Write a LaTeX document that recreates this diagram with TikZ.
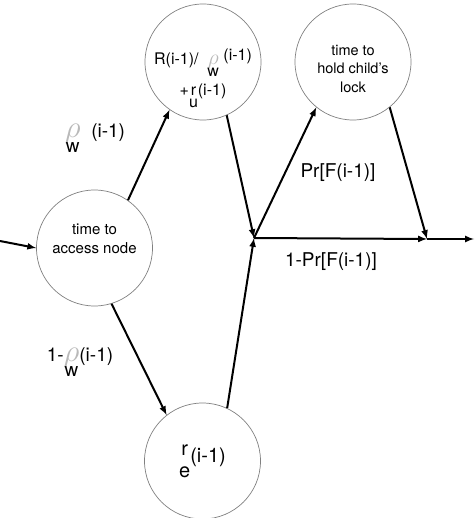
\documentclass[tikz,border=0pt]{standalone}
\usepackage{fontspec}
\setmainfont{TeX Gyre Heros}
\usepackage{graphicx}
\usepackage{tikz}
\tikzset{
	state/.style = {shape=circle, draw=gray, line width=0.7pt,
		minimum size=116pt, inner sep=0pt},
	flow/.style  = {draw, line width=2pt, -latex},
	lbl/.style   = {font=\fontsize{19}{22}\selectfont}
}
\newcommand{\stk}[3][0pt]{\ooalign{\hfil\raisebox{#1}{#2}\hfil\cr\hfil\raisebox{-0.75em}{#3}\hfil\cr}}
\newcommand{\rhoG}[1][1.8]{\textcolor{gray!55}{\scalebox{#1}{$\rho$}}}
\newcommand{\lines}[2]{\raisebox{#1}[\height][\depth]{\begin{tabular}{@{}c@{}}#2\end{tabular}}}

\begin{document}
\begin{tikzpicture}[x=1pt, y=-1pt]
	\useasboundingbox (0,0) rectangle (474,518);
	% states
	\node [state, font=\fontsize{15}{19}\selectfont] (acc) at (94.5,248) {\lines{8pt}{time to\\access node}};
	\node [state, font=\fontsize{16}{26}\selectfont] (rw) at (203,62)
	{\lines{-15pt}{R(i-1)/\ \ \stk{\rhoG[1.25]}{w}\ \raisebox{0.3em}{(i-1)}\\+\stk{r}{u}(i-1)}};
	\node [state, font=\fontsize{14.5}{18.5}\selectfont] (hold) at (353,62) {\lines{-8pt}{time to\\hold child's\\lock}};
	\node [state, font=\fontsize{20}{22}\selectfont] (re) at (202.5,461) {\stk[0.35em]{r}{e}(i-1)};
	% junctions
	\coordinate (src) at (0,241);
	\coordinate (j) at (254,238);
	\coordinate (m) at (427,239);
	\coordinate (out) at (474,239);
	% flows
	\draw [flow] (src) -- (acc.west);
	\draw [flow] (acc.55) -- (rw.235);
	\draw [flow] (acc.287) -- (re.128);
	\draw [flow] (rw.294) -- (j);
	\draw [flow] (re.65) -- (j);
	\draw [flow] (j) -- (hold.231);
	\draw [flow] (hold.309) -- (m);
	\draw [flow] (j) -- (m);
	\draw [flow] (m) -- (out);
	% labels
	\node [lbl] (pw) at (95,138) {\stk{\rhoG}{w}\ \ (i-1)};
	\node [lbl] (npw) at (80,362) {1-\stk{\rhoG}{w}(i-1)};
	\node [lbl] (pf) at (338,173) {Pr[F(i-1)]};
	\node [lbl] (npf) at (331,262) {1-Pr[F(i-1)]};
\end{tikzpicture}
\end{document}
